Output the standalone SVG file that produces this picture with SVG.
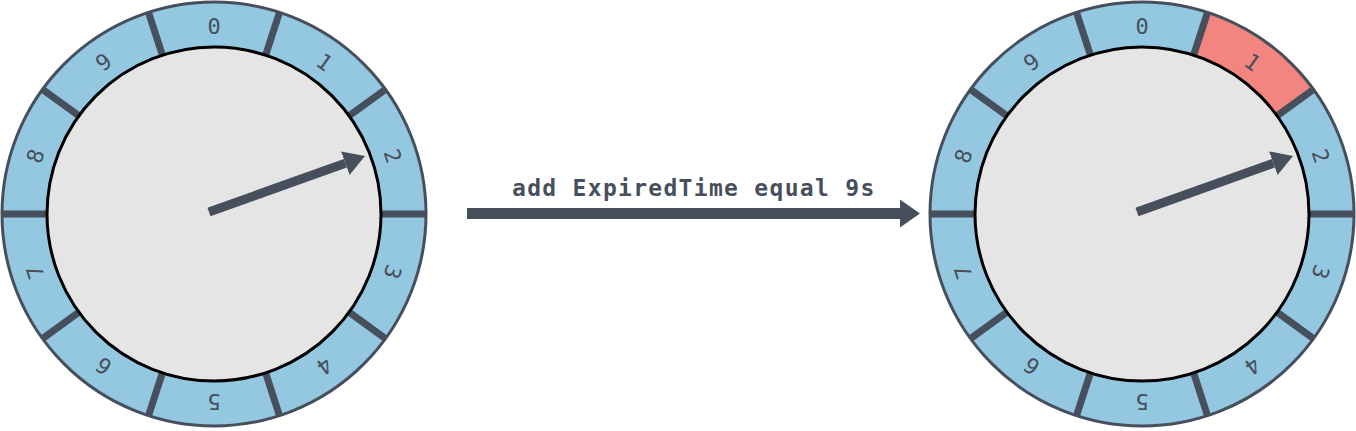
<svg xmlns="http://www.w3.org/2000/svg" width="1356" height="431" viewBox="0 0 1356 431">
<style>
.ring{fill:#94c8e1;stroke:none}
.rim{fill:none;stroke:#474f5c;stroke-width:3}
.div{stroke:#474f5c;stroke-width:7}
.face{fill:#e5e5e5;stroke:#000;stroke-width:3}
.num{font-family:"DejaVu Sans Mono","Liberation Mono",monospace;font-size:22px;fill:#474f5c;text-anchor:middle}
.hand{stroke:#474f5c;stroke-width:9;fill:none}
.title{font-family:"DejaVu Sans Mono","Liberation Mono",monospace;font-size:23px;font-weight:bold;fill:#474f5c;letter-spacing:1.3px}
.hot{fill:#f28580}
</style>
<defs>
<marker id="handHead" markerUnits="userSpaceOnUse" markerWidth="21" markerHeight="25" refX="0" refY="12.5" orient="auto"><path d="M0 0 L21 12.5 L0 25 Z" fill="#474f5c"/></marker>
<marker id="bigHead" markerUnits="userSpaceOnUse" markerWidth="20" markerHeight="28" refX="0" refY="14" orient="auto"><path d="M0 0 L20 14 L0 28 Z" fill="#474f5c"/></marker>
<g id="wheel">
<circle class="ring" r="212"/>
</g>
<g id="wheelTop">
<circle class="rim" r="212"/>
<g class="div">
<line x1="0" y1="-166" x2="0" y2="-212" transform="rotate(18)"/>
<line x1="0" y1="-166" x2="0" y2="-212" transform="rotate(54)"/>
<line x1="0" y1="-166" x2="0" y2="-212" transform="rotate(90)"/>
<line x1="0" y1="-166" x2="0" y2="-212" transform="rotate(126)"/>
<line x1="0" y1="-166" x2="0" y2="-212" transform="rotate(162)"/>
<line x1="0" y1="-166" x2="0" y2="-212" transform="rotate(198)"/>
<line x1="0" y1="-166" x2="0" y2="-212" transform="rotate(234)"/>
<line x1="0" y1="-166" x2="0" y2="-212" transform="rotate(270)"/>
<line x1="0" y1="-166" x2="0" y2="-212" transform="rotate(306)"/>
<line x1="0" y1="-166" x2="0" y2="-212" transform="rotate(342)"/>
</g>
<circle class="face" r="167"/>
<g class="num">
<text x="0" y="-180" transform="rotate(0)">0</text>
<text x="0" y="-180" transform="rotate(36)">1</text>
<text x="0" y="-180" transform="rotate(72)">2</text>
<text x="0" y="-180" transform="rotate(108)">3</text>
<text x="0" y="-180" transform="rotate(144)">4</text>
<text x="0" y="-180" transform="rotate(180)">5</text>
<text x="0" y="-180" transform="rotate(216)">6</text>
<text x="0" y="-180" transform="rotate(252)">7</text>
<text x="0" y="-180" transform="rotate(288)">8</text>
<text x="0" y="-180" transform="rotate(324)">9</text>
</g>
</g>
</defs>
<g id="wheel-before">
<use href="#wheel" x="214" y="214"/>
<use href="#wheelTop" x="214" y="214"/>
<line class="hand" x1="209" y1="212" x2="345.3" y2="163.2" marker-end="url(#handHead)"/>
</g>
<g id="wheel-after">
<use href="#wheel" x="1142" y="214"/>
<path class="hot" d="M1207.51 12.38 A212 212 0 0 1 1313.51 89.39 L1276.30 116.43 A166 166 0 0 0 1193.30 56.12 Z"/>
<use href="#wheelTop" x="1142" y="214"/>
<line class="hand" x1="1137" y1="212" x2="1273.3" y2="163.2" marker-end="url(#handHead)"/>
</g>
<g id="connectors">
<line x1="467" y1="213.5" x2="900" y2="213.5" stroke="#474f5c" stroke-width="11" marker-end="url(#bigHead)"/>
<text class="title" x="512" y="196">add ExpiredTime equal 9s</text>
</g>
</svg>
